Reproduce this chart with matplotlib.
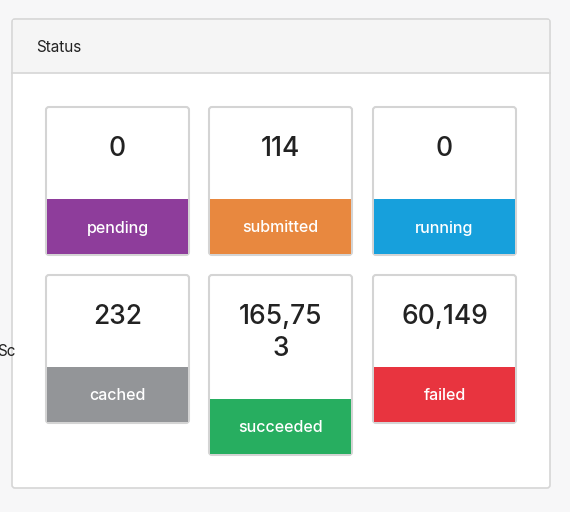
import matplotlib.pyplot as plt
from matplotlib.patches import FancyBboxPatch, Rectangle

labels = ["pending", "submitted", "running", "cached", "succeeded", "failed"]
counts = [0, 114, 0, 232, 165753, 60149]
colors = ["#8e3d9b", "#e8883f", "#17a0dc", "#939598", "#27ae60", "#e8343f"]

fig = plt.figure(figsize=(5.7, 5.12), dpi=100)
fig.patch.set_facecolor("#f7f7f8")
ax = fig.add_axes([0, 0, 1, 1])
ax.set_xlim(0, 570)
ax.set_ylim(512, 0)
ax.axis("off")

font = ["Inter", "DejaVu Sans"]

# panel
ax.add_patch(FancyBboxPatch((12, 19), 538, 469, boxstyle="round,pad=0,rounding_size=3",
                            fc="white", ec="#d6d6d6", lw=1.2))
ax.add_patch(Rectangle((13, 20), 536, 53, fc="#f5f5f5", ec="none"))
ax.plot([12, 550], [73, 73], color="#d6d6d6", lw=1.2)
ax.text(36, 47, "Status", fontsize=11, va="center", color="#222", family=font)
# partially hidden label at the left edge of the page
ax.text(-3, 352, "Sc", fontsize=11, va="center", color="#222", family=font)

col_x = [46, 209, 373]
row_y = [107, 275]
w, top_h, band_h = 143, 92, 56

for i, (lab, n, c) in enumerate(zip(labels, counts, colors)):
    x = col_x[i % 3]
    y = row_y[i // 3]
    s = f"{n:,}"
    lines = [s[k:k + 6] for k in range(0, len(s), 6)]
    h_top = top_h + 32 * (len(lines) - 1)
    ax.add_patch(FancyBboxPatch((x, y), w, h_top + band_h,
                                boxstyle="round,pad=0,rounding_size=3",
                                fc="white", ec="#d4d4d4", lw=1.5))
    ax.add_patch(Rectangle((x + 1, y + h_top), w - 2, band_h - 1, fc=c, ec="none"))
    for j, ln in enumerate(lines):
        ax.text(x + w / 2, y + 42 + 32 * j, ln, fontsize=19, ha="center", va="center",
                color="#222", family=font, fontweight="medium")
    ax.text(x + w / 2, y + h_top + band_h / 2 + 1, lab, fontsize=11.5, ha="center",
            va="center", color="white", family=font, fontweight="medium")

fig.savefig("out.png", dpi=100, facecolor=fig.get_facecolor())
